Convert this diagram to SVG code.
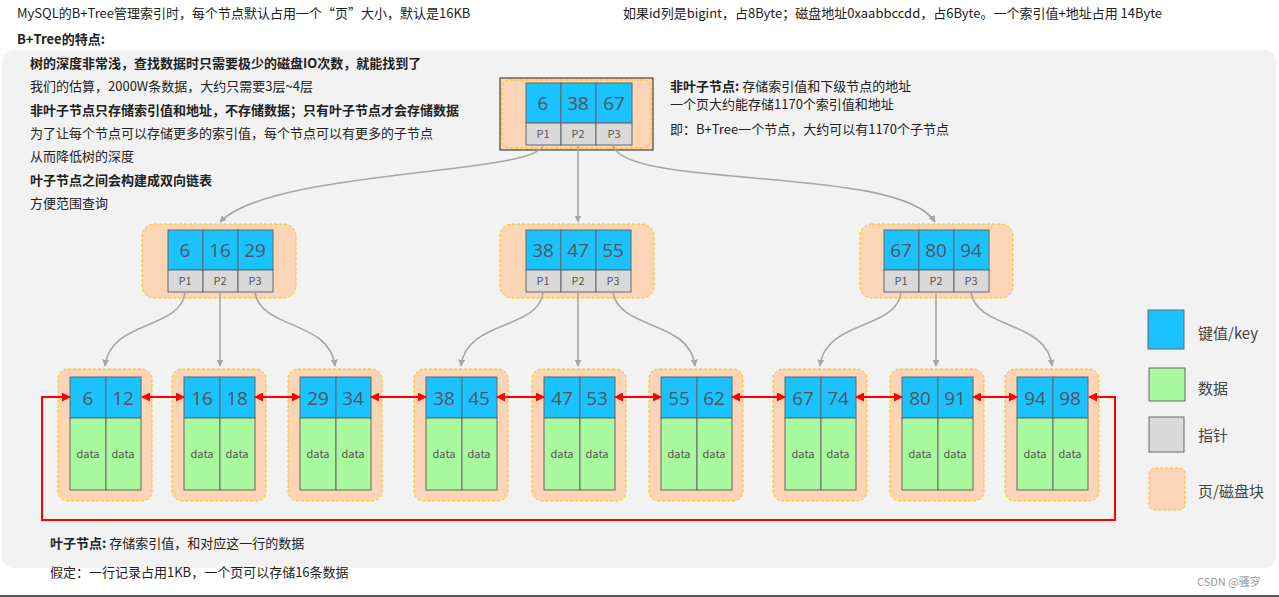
<svg xmlns="http://www.w3.org/2000/svg" width="1279" height="597" viewBox="0 0 1279 597">
<style>
text{font-family:"Noto Sans CJK SC","Noto Sans",sans-serif;}
.t{font-size:13px;fill:#222;}
.b{font-weight:bold;}
.page{fill:#FBD5B5;stroke:#FFC000;stroke-width:1;stroke-dasharray:3 2;}
.key{fill:#1AC3FF;stroke:#666;stroke-width:1;}
.ptr{fill:#D9D9D9;stroke:#666;stroke-width:1;}
.dat{fill:#A9F99F;stroke:#666;stroke-width:1;}
.k{font-size:19px;fill:#555;text-anchor:middle;font-family:"Open Sans","Noto Sans",sans-serif;}
.p{font-size:11px;fill:#555;text-anchor:middle;}
.d{font-size:11px;fill:#555;text-anchor:middle;}
.c{fill:none;stroke:#A6A6A6;stroke-width:1.6;}
.r{fill:none;stroke:#FF0000;stroke-width:2;}
</style>
<defs>
<marker id="ag" viewBox="0 0 10 10" refX="9" refY="5" markerWidth="7" markerHeight="7" orient="auto-start-reverse" markerUnits="userSpaceOnUse"><path d="M0,0 L10,5 L0,10 z" fill="#A6A6A6"/></marker>
<marker id="ar" viewBox="0 0 10 10" refX="9" refY="5" markerWidth="9" markerHeight="9" orient="auto-start-reverse" markerUnits="userSpaceOnUse"><path d="M0,0 L10,5 L0,10 z" fill="#FF0000"/></marker>
</defs>
<rect width="1279" height="597" fill="#fff"/>
<rect x="2" y="50" width="1274" height="518" rx="12" fill="#F2F2F2"/>
<line x1="0" y1="596" x2="1279" y2="596" stroke="#222" stroke-width="1.5"/>
<g id="texts">
<text class="t" x="17" y="18">MySQL的B+Tree管理索引时，每个节点默认占用一个“页”大小，默认是16KB</text>
<text class="t" x="623" y="18">如果id列是bigint，占8Byte；磁盘地址0xaabbccdd，占6Byte。一个索引值+地址占用 14Byte</text>
<text class="t b" x="17" y="44">B+Tree的特点:</text>
<text class="t b" x="30" y="68">树的深度非常浅，查找数据时只需要极少的磁盘IO次数，就能找到了</text>
<text class="t" x="30" y="91">我们的估算，2000W条数据，大约只需要3层~4层</text>
<text class="t b" x="30" y="115">非叶子节点只存储索引值和地址，不存储数据；只有叶子节点才会存储数据</text>
<text class="t" x="30" y="138">为了让每个节点可以存储更多的索引值，每个节点可以有更多的子节点</text>
<text class="t" x="30" y="161">从而降低树的深度</text>
<text class="t b" x="30" y="185">叶子节点之间会构建成双向链表</text>
<text class="t" x="30" y="208">方便范围查询</text>
<text class="t" x="670" y="91"><tspan class="b">非叶子节点:</tspan> 存储索引值和下级节点的地址</text>
<text class="t" x="670" y="109">一个页大约能存储1170个索引值和地址</text>
<text class="t" x="670" y="134">即：B+Tree一个节点，大约可以有1170个子节点</text>
<text class="t" x="50" y="548"><tspan class="b">叶子节点:</tspan> 存储索引值，和对应这一行的数据</text>
<text class="t" x="50" y="577">假定：一行记录占用1KB，一个页可以存储16条数据</text>
<text x="1197" y="586" style="font-size:11px;fill:#999">CSDN @骚穸</text>
</g>
<g id="root">
<rect x="500" y="78" width="153" height="72" fill="#FBD5B5" stroke="#222" stroke-width="1"/>
<rect x="502" y="80" width="149" height="68" rx="8" class="page"/>
<rect class="key" x="526" y="83" width="35" height="40"/><rect class="key" x="561" y="83" width="35" height="40"/><rect class="key" x="596" y="83" width="36" height="40"/>
<rect class="ptr" x="526" y="123" width="35" height="22"/><rect class="ptr" x="561" y="123" width="35" height="22"/><rect class="ptr" x="596" y="123" width="36" height="22"/>
<text class="k" x="543" y="110">6</text><text class="k" x="578" y="110">38</text><text class="k" x="614" y="110">67</text>
<text class="p" x="543" y="138">P1</text><text class="p" x="578" y="138">P2</text><text class="p" x="614" y="138">P3</text>
</g>
<g id="n2a">
<rect x="142" y="224" width="154" height="74" rx="12" class="page"/>
<rect class="key" x="168" y="230" width="35" height="40"/><rect class="key" x="203" y="230" width="35" height="40"/><rect class="key" x="238" y="230" width="35" height="40"/>
<rect class="ptr" x="168" y="270" width="35" height="22"/><rect class="ptr" x="203" y="270" width="35" height="22"/><rect class="ptr" x="238" y="270" width="35" height="22"/>
<text class="k" x="185" y="257">6</text><text class="k" x="220" y="257">16</text><text class="k" x="255" y="257">29</text>
<text class="p" x="185" y="285">P1</text><text class="p" x="220" y="285">P2</text><text class="p" x="255" y="285">P3</text>
</g>
<g id="n2b">
<rect x="500" y="224" width="154" height="74" rx="12" class="page"/>
<rect class="key" x="526" y="230" width="35" height="40"/><rect class="key" x="561" y="230" width="35" height="40"/><rect class="key" x="596" y="230" width="35" height="40"/>
<rect class="ptr" x="526" y="270" width="35" height="22"/><rect class="ptr" x="561" y="270" width="35" height="22"/><rect class="ptr" x="596" y="270" width="35" height="22"/>
<text class="k" x="543" y="257">38</text><text class="k" x="578" y="257">47</text><text class="k" x="613" y="257">55</text>
<text class="p" x="543" y="285">P1</text><text class="p" x="578" y="285">P2</text><text class="p" x="613" y="285">P3</text>
</g>
<g id="n2c">
<rect x="860" y="224" width="153" height="74" rx="12" class="page"/>
<rect class="key" x="884" y="230" width="35" height="40"/><rect class="key" x="919" y="230" width="35" height="40"/><rect class="key" x="954" y="230" width="35" height="40"/>
<rect class="ptr" x="884" y="270" width="35" height="22"/><rect class="ptr" x="919" y="270" width="35" height="22"/><rect class="ptr" x="954" y="270" width="35" height="22"/>
<text class="k" x="901" y="257">67</text><text class="k" x="936" y="257">80</text><text class="k" x="971" y="257">94</text>
<text class="p" x="901" y="285">P1</text><text class="p" x="936" y="285">P2</text><text class="p" x="971" y="285">P3</text>
</g>
<g id="leaf1" transform="translate(70,0)"><rect x="-12" y="369" width="94" height="132" rx="10" class="page"/><rect class="key" x="0" y="377" width="36" height="41"/><rect class="key" x="36" y="377" width="35" height="41"/><rect class="dat" x="0" y="418" width="36" height="72"/><rect class="dat" x="36" y="418" width="35" height="72"/><text class="k" x="18" y="405">6</text><text class="k" x="53" y="405">12</text><text class="d" x="18" y="458">data</text><text class="d" x="53" y="458">data</text></g>
<g id="leaf2" transform="translate(184,0)"><rect x="-12" y="369" width="94" height="132" rx="10" class="page"/><rect class="key" x="0" y="377" width="36" height="41"/><rect class="key" x="36" y="377" width="35" height="41"/><rect class="dat" x="0" y="418" width="36" height="72"/><rect class="dat" x="36" y="418" width="35" height="72"/><text class="k" x="18" y="405">16</text><text class="k" x="53" y="405">18</text><text class="d" x="18" y="458">data</text><text class="d" x="53" y="458">data</text></g>
<g id="leaf3" transform="translate(300,0)"><rect x="-12" y="369" width="94" height="132" rx="10" class="page"/><rect class="key" x="0" y="377" width="36" height="41"/><rect class="key" x="36" y="377" width="35" height="41"/><rect class="dat" x="0" y="418" width="36" height="72"/><rect class="dat" x="36" y="418" width="35" height="72"/><text class="k" x="18" y="405">29</text><text class="k" x="53" y="405">34</text><text class="d" x="18" y="458">data</text><text class="d" x="53" y="458">data</text></g>
<g id="leaf4" transform="translate(426,0)"><rect x="-12" y="369" width="94" height="132" rx="10" class="page"/><rect class="key" x="0" y="377" width="36" height="41"/><rect class="key" x="36" y="377" width="35" height="41"/><rect class="dat" x="0" y="418" width="36" height="72"/><rect class="dat" x="36" y="418" width="35" height="72"/><text class="k" x="18" y="405">38</text><text class="k" x="53" y="405">45</text><text class="d" x="18" y="458">data</text><text class="d" x="53" y="458">data</text></g>
<g id="leaf5" transform="translate(544,0)"><rect x="-12" y="369" width="94" height="132" rx="10" class="page"/><rect class="key" x="0" y="377" width="36" height="41"/><rect class="key" x="36" y="377" width="35" height="41"/><rect class="dat" x="0" y="418" width="36" height="72"/><rect class="dat" x="36" y="418" width="35" height="72"/><text class="k" x="18" y="405">47</text><text class="k" x="53" y="405">53</text><text class="d" x="18" y="458">data</text><text class="d" x="53" y="458">data</text></g>
<g id="leaf6" transform="translate(661,0)"><rect x="-12" y="369" width="94" height="132" rx="10" class="page"/><rect class="key" x="0" y="377" width="36" height="41"/><rect class="key" x="36" y="377" width="35" height="41"/><rect class="dat" x="0" y="418" width="36" height="72"/><rect class="dat" x="36" y="418" width="35" height="72"/><text class="k" x="18" y="405">55</text><text class="k" x="53" y="405">62</text><text class="d" x="18" y="458">data</text><text class="d" x="53" y="458">data</text></g>
<g id="leaf7" transform="translate(785,0)"><rect x="-12" y="369" width="94" height="132" rx="10" class="page"/><rect class="key" x="0" y="377" width="36" height="41"/><rect class="key" x="36" y="377" width="35" height="41"/><rect class="dat" x="0" y="418" width="36" height="72"/><rect class="dat" x="36" y="418" width="35" height="72"/><text class="k" x="18" y="405">67</text><text class="k" x="53" y="405">74</text><text class="d" x="18" y="458">data</text><text class="d" x="53" y="458">data</text></g>
<g id="leaf8" transform="translate(902,0)"><rect x="-12" y="369" width="94" height="132" rx="10" class="page"/><rect class="key" x="0" y="377" width="36" height="41"/><rect class="key" x="36" y="377" width="35" height="41"/><rect class="dat" x="0" y="418" width="36" height="72"/><rect class="dat" x="36" y="418" width="35" height="72"/><text class="k" x="18" y="405">80</text><text class="k" x="53" y="405">91</text><text class="d" x="18" y="458">data</text><text class="d" x="53" y="458">data</text></g>
<g id="leaf9" transform="translate(1017,0)"><rect x="-12" y="369" width="94" height="132" rx="10" class="page"/><rect class="key" x="0" y="377" width="36" height="41"/><rect class="key" x="36" y="377" width="35" height="41"/><rect class="dat" x="0" y="418" width="36" height="72"/><rect class="dat" x="36" y="418" width="35" height="72"/><text class="k" x="18" y="405">94</text><text class="k" x="53" y="405">98</text><text class="d" x="18" y="458">data</text><text class="d" x="53" y="458">data</text></g>
<g id="legend">
<rect class="key" x="1148" y="310" width="36" height="39"/>
<rect class="dat" x="1149" y="368" width="36" height="33"/>
<rect class="ptr" x="1149" y="417" width="35" height="35"/>
<rect class="page" x="1149" y="468" width="36" height="42" rx="6"/>
<text x="1198" y="339" style="font-size:15px;fill:#444">键值/key</text>
<text x="1198" y="394" style="font-size:15px;fill:#444">数据</text>
<text x="1198" y="441" style="font-size:15px;fill:#444">指针</text>
<text x="1198" y="497" style="font-size:15px;fill:#444">页/磁盘块</text>
</g>
<g id="connectors">
<path class="c" marker-end="url(#ag)" d="M543,146 C530,175 270,170 220,222"/>
<path class="c" marker-end="url(#ag)" d="M578,146 V222"/>
<path class="c" marker-end="url(#ag)" d="M613,146 C630,190 900,165 935,222"/>
<path class="c" marker-end="url(#ag)" d="M185,293 C180,330 110,320 105,366"/>
<path class="c" marker-end="url(#ag)" d="M220,293 V366"/>
<path class="c" marker-end="url(#ag)" d="M255,293 C262,330 330,320 335,366"/>
<path class="c" marker-end="url(#ag)" d="M543,293 C538,330 466,320 461,366"/>
<path class="c" marker-end="url(#ag)" d="M578,293 V366"/>
<path class="c" marker-end="url(#ag)" d="M613,293 C620,330 690,320 695,366"/>
<path class="c" marker-end="url(#ag)" d="M901,293 C896,330 825,320 820,366"/>
<path class="c" marker-end="url(#ag)" d="M936,293 V366"/>
<path class="c" marker-end="url(#ag)" d="M971,293 C978,330 1047,320 1052,366"/>
<path class="r" marker-start="url(#ar)" marker-end="url(#ar)" d="M142,397 H184"/>
<path class="r" marker-start="url(#ar)" marker-end="url(#ar)" d="M255,397 H300"/>
<path class="r" marker-start="url(#ar)" marker-end="url(#ar)" d="M371,397 H426"/>
<path class="r" marker-start="url(#ar)" marker-end="url(#ar)" d="M497,397 H544"/>
<path class="r" marker-start="url(#ar)" marker-end="url(#ar)" d="M615,397 H661"/>
<path class="r" marker-start="url(#ar)" marker-end="url(#ar)" d="M732,397 H785"/>
<path class="r" marker-start="url(#ar)" marker-end="url(#ar)" d="M856,397 H902"/>
<path class="r" marker-start="url(#ar)" marker-end="url(#ar)" d="M973,397 H1017"/>
<path class="r" marker-start="url(#ar)" marker-end="url(#ar)" d="M70,397 H42 V520 H1115 V397 H1089"/>
</g>
</svg>
